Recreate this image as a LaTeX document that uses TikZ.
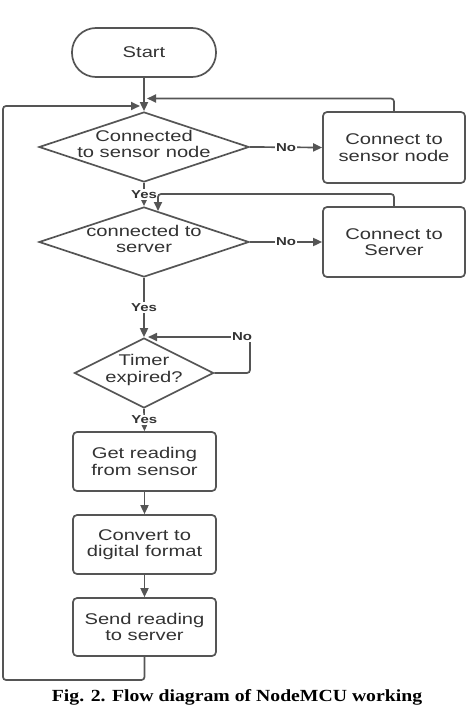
\documentclass[tikz,border=0pt]{standalone}
\usepackage{fontspec}
\setmainfont{Liberation Sans}[FakeStretch=1.3]
\newfontfamily\capfont{Liberation Serif}[FakeStretch=1.16]
\usetikzlibrary{arrows.meta,shapes.geometric}
\definecolor{lncol}{HTML}{555555}
\definecolor{txcol}{HTML}{333333}
\begin{document}
\begin{tikzpicture}[x=1pt,y=-1pt,
  every node/.style={text=txcol, font=\fontsize{15.5}{16.5}\selectfont, align=center, inner sep=0pt},
  box/.style={draw=lncol, line width=1.7pt, rounded corners=4pt},
  dia/.style={draw=lncol, line width=1.7pt, diamond},
  arr/.style={draw=lncol, line width=1.7pt, -{Triangle[length=9pt,width=8pt]}},
  conn/.style={draw=lncol, line width=1.7pt},
  lab/.style={font=\bfseries\fontsize{11.5}{12}\selectfont, fill=white, inner sep=1pt}]
\useasboundingbox (0,0) rectangle (474,706);

\node[box, minimum width=144pt, minimum height=49pt, rounded corners=24pt] (start) at (144,52.5) {Start};

\node[dia, minimum width=210pt, minimum height=70pt] (d1) at (144,147) {};
\node (t1) at (144,144) {Connected\\to sensor node};
\node[box, minimum width=142pt, minimum height=71pt] (b1) at (394,147.5) {Connect to\\sensor node};

\node[dia, minimum width=210pt, minimum height=70pt] (d2) at (144,242) {};
\node (t2) at (144,239) {connected to\\server};
\node[box, minimum width=142pt, minimum height=70pt] (b2) at (394,242) {Connect to\\Server};

\node[dia, minimum width=139pt, minimum height=70pt] (d3) at (144,373) {};
\node (t3) at (144,370) {Timer\\expired?};

\node[box, minimum width=143pt, minimum height=59pt] (g1) at (144.5,461.5) {Get reading\\from sensor};
\node[box, minimum width=143pt, minimum height=59pt] (g2) at (144.5,544.5) {Convert to\\digital format};
\node[box, minimum width=143pt, minimum height=58pt] (g3) at (144.5,627) {Send reading\\to server};

\coordinate (r1a) at (394,98.5);
\coordinate (r1b) at (147,98.5);
\coordinate (r2a) at (394,194);
\coordinate (r2b) at (158,194);
\coordinate (r2c) at (158,211);
\coordinate (l1) at (144.5,680);
\coordinate (l2) at (3,680);
\coordinate (l3) at (3,106);
\coordinate (l4) at (140,106);
\coordinate (n3a) at (250,373);
\coordinate (n3b) at (250,337);
\coordinate (n3c) at (148,337);

\draw[arr] (start.south) -- (d1.north);
\draw[arr, rounded corners=3pt] (b1.north) -- (r1a) -- (r1b);
\draw[arr, rounded corners=3pt] (g3.south) -- (l1) -- (l2) -- (l3) -- (l4);
\draw[arr] (d1.east) -- node[lab]{No} (b1.west);
\draw[arr] (d1.south) -- node[lab]{Yes} (d2.north);
\draw[arr, rounded corners=3pt] (b2.north) -- (r2a) -- (r2b) -- (r2c);
\draw[arr] (d2.east) -- node[lab]{No} (b2.west);
\draw[arr] (d2.south) -- node[lab]{Yes} (d3.north);
\draw[arr, rounded corners=3pt] (d3.east) -- (n3a) -- (n3b) -- (n3c);
\node[lab] (no3) at (242,337) {No};
\draw[arr] (d3.south) -- node[lab]{Yes} (g1.north);
\draw[arr] (g1.south) -- (g2.north);
\draw[arr] (g2.south) -- (g3.north);

\node[font=\capfont\bfseries\fontsize{17}{19}\selectfont, text=black] (cap) at (237,697) {Fig. 2. Flow diagram of NodeMCU working};
\end{tikzpicture}
\end{document}
